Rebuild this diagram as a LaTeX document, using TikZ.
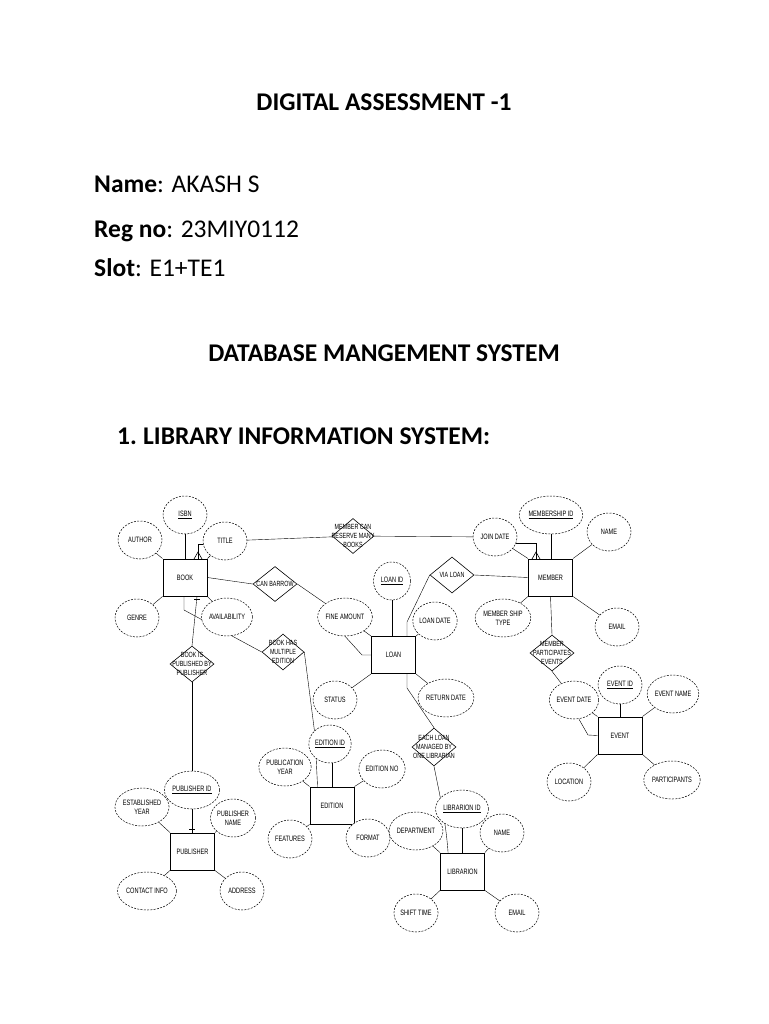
\documentclass[tikz,border=0pt]{standalone}
\usepackage{fontspec}
\setmainfont{Carlito}
\newfontfamily\erfont[FakeStretch=0.72]{Liberation Sans}
\usetikzlibrary{shapes.geometric,backgrounds,calc}
\begin{document}
\begin{tikzpicture}[x=1pt,y=-1pt,
  attr/.style={ellipse, draw, line width=0.5pt, dash pattern=on 2pt off 1.3pt, fill=white,
    minimum width=44pt, minimum height=38pt, inner sep=0pt, align=center,
    font=\erfont\fontsize{7.8}{8.8}\selectfont},
  ent/.style={rectangle, draw, line width=0.9pt, fill=white, minimum width=44pt,
    minimum height=37pt, inner sep=0pt, font=\erfont\fontsize{7.8}{8.8}\selectfont},
  rel/.style={diamond, draw, line width=0.6pt, fill=white, minimum width=44pt,
    minimum height=36pt, inner sep=0pt},
  reltext/.style={inner sep=0pt, align=center, font=\erfont\fontsize{7.5}{8.6}\selectfont},
  conn/.style={line width=0.6pt},
  hdr/.style={inner sep=0pt, font=\fontsize{25.5}{30}\selectfont}
]
\useasboundingbox (0,0) rectangle (768,1024);

% ---------- header text ----------
\node[hdr, anchor=base, font=\bfseries\fontsize{25.5}{30}\selectfont] (title1) at (384,111) {DIGITAL ASSESSMENT -1};
\node[hdr, anchor=base west] (nm) at (94,193) {\textbf{Name}: AKASH S};
\node[hdr, anchor=base west] (rg) at (94,237) {\textbf{Reg no}: 23MIY0112};
\node[hdr, anchor=base west] (sl) at (94,276) {\textbf{Slot}: E1+TE1};
\node[hdr, anchor=base, font=\bfseries\fontsize{25.5}{30}\selectfont] (title2) at (384,361) {DATABASE MANGEMENT SYSTEM};
\node[hdr, anchor=base west, font=\bfseries\fontsize{25.5}{30}\selectfont] (num) at (117,444) {1.};
\node[hdr, anchor=base west, font=\bfseries\fontsize{25.5}{30}\selectfont] (title3) at (143,444) {LIBRARY INFORMATION SYSTEM:};

% ---------- entities ----------
\node[ent] (book) at (185,577.5) {BOOK};
\node[ent] (member) at (550.5,577.5) {MEMBER};
\node[ent] (loan) at (393.5,655) {LOAN};
\node[ent] (edition) at (332,805.5) {EDITION};
\node[ent] (publisher) at (192.5,851.5) {PUBLISHER};
\node[ent] (librarian) at (462.5,871.5) {LIBRARION};
\node[ent] (event) at (620,735.5) {EVENT};

% ---------- attributes ----------
\node[attr] (isbn) at (185,515) {\underline{ISBN}};
\node[attr] (author) at (140,540) {AUTHOR};
\node[attr] (btitle) at (225,541) {TITLE};
\node[attr] (genre) at (137,618) {GENRE};
\node[attr] (avail) at (227,617) {AVAILABILITY};
\node[attr, minimum width=37pt] (loanid) at (392,581) {\underline{LOAN ID}};
\node[attr] (fine) at (345,617) {FINE AMOUNT};
\node[attr] (loandate) at (435,621) {LOAN DATE};
\node[attr] (joindate) at (495,537) {JOIN DATE};
\node[attr] (memid) at (551,515) {\underline{MEMBERSHIP ID}};
\node[attr] (mname) at (609,532) {NAME};
\node[attr] (memtype) at (503,618) {MEMBER SHIP\\TYPE};
\node[attr] (memail) at (617,627) {EMAIL};
\node[attr] (status) at (335,700) {STATUS};
\node[attr] (retdate) at (446,698) {RETURN DATE};
\node[attr, minimum width=38pt] (edid) at (330,744) {\underline{EDITION ID}};
\node[attr] (edno) at (382,769) {EDITION NO};
\node[attr, minimum width=40pt] (pubyear) at (285,767) {PUBLICATION\\YEAR};
\node[attr] (features) at (290,839) {FEATURES};
\node[attr] (format) at (368,838) {FORMAT};
\node[attr, minimum width=42pt] (dept) at (416,831) {DEPARTMENT};
\node[attr, minimum width=42pt] (pubid) at (192,790) {\underline{PUBLISHER ID}};
\node[attr, minimum width=42pt] (estyear) at (142,807) {ESTABLISHED\\YEAR};
\node[attr, minimum width=42pt] (pubname) at (233,818) {PUBLISHER\\NAME};
\node[attr] (contact) at (147,891) {CONTACT INFO};
\node[attr] (address) at (242,891) {ADDRESS};
\node[attr] (libid) at (462,809) {\underline{LIBRARION ID}};
\node[attr] (lname) at (502,833) {NAME};
\node[attr] (shift) at (416,913) {SHIFT TIME};
\node[attr] (lemail) at (517,913) {EMAIL};
\node[attr] (evdate) at (574,700) {EVENT DATE};
\node[attr] (evid) at (620,685) {\underline{EVENT ID}};
\node[attr] (evname) at (673,694) {EVENT NAME};
\node[attr] (location) at (569,782) {LOCATION};
\node[attr] (partic) at (672,780) {PARTICIPANTS};

% ---------- relationships ----------
\node[rel, minimum height=35pt] (canb) at (275,584) {};
\node[reltext] (canbt) at (canb) {CAN BARROW};
\node[rel, minimum width=42pt, minimum height=35pt] (resv) at (353,536) {};
\node[reltext] (resvt) at (resv) {MEMBER CAN\\RESERVE MANY\\BOOKS};
\node[rel] (vialoan) at (452,575) {};
\node[reltext] (vialoant) at (vialoan) {VIA LOAN};
\node[rel, minimum height=38pt] (each) at (434,747) {};
\node[reltext] (eacht) at (each) {EACH LOAN\\MANAGED BY\\ONE LIBRARIAN};
\node[rel] (pubd) at (192,664) {};
\node[reltext] (pubdt) at (pubd) {BOOK IS\\PUBLISHED BY\\PUBLISHER};
\node[rel, minimum width=42pt] (bhme) at (283,652) {};
\node[reltext] (bhmet) at (bhme) {BOOK HAS\\MULTIPLE\\EDITION};
\node[rel] (mpe) at (552,653) {};
\node[reltext] (mpet) at (mpe) {MEMBER\\PARTICIPATES\\EVENTS};

% ---------- helper coordinates ----------
\coordinate (tcf) at (198,559);
\coordinate (jcf) at (536,559);
\coordinate (fl) at (362,655);
\coordinate (vl) at (407,622);
\coordinate (le) at (407,688);
\coordinate (ee) at (588,735);
\coordinate (bh) at (184,610);
\coordinate (be) at (315,735);

% ---------- connectors ----------
\begin{scope}[on background layer, conn]
  % book
  \draw (book.north) -- (book.north |- isbn.center);
  \draw (author) -- (book.north west);
  \draw (btitle) -- (book.north east);
  \draw ($(btitle.center)+(0,3)$) -| (tcf);
  \draw (genre) -- (book.south west);
  \draw (avail) -- (book.south east);
  \draw (btitle) -- (resv) -- (joindate);
  \draw (book.east) -- (canb.west);
  \draw (canb.east) -- (fine);
  \draw (fine) -- (loan.north west);
  \draw (fine.south) -- (fl) -- (loan.west);
  % loan
  \draw (loan.north -| loanid.center) -- (loanid.center);
  \draw (vialoan.west) -- (vl) -- (vl |- loan.north);
  \draw (vialoan.east) -- (member.west);
  \draw (loandate) -- (loan.north east);
  \draw (status) -- (loan.south west);
  \draw (retdate) -- (loan.south east);
  \draw (le |- loan.south) -- (le) -- (each.north);
  \draw (each.south) .. controls ($(each.south)+(6,30)$) and ($(librarian.north west)+(6,-30)$) .. ($(librarian.north west)+(8,0)$);
  % librarian
  \draw (librarian.north -| libid.center) -- (libid.center);
  \draw (dept) -- (librarian.north west);
  \draw (lname) -- (librarian.north east);
  \draw (shift) -- (librarian.south west);
  \draw (lemail) -- (librarian.south east);
  % member
  \draw (member.north -| memid.center) -- (memid.center);
  \draw (mname) -- (member.north east);
  \draw (memtype) -- (member.south west);
  \draw (memail) -- (member.south east);
  \draw (joindate) -- (member.north west);
  \draw ($(joindate.center)+(0,6)$) -| (jcf);
  \draw (member.south) -- (mpe.north);
  \draw (mpe.south) -- (evdate);
  % event
  \draw (evdate) -- (event.north west);
  \draw ($(evdate.south)+(5,0)$) -- (ee) -- (event.west);
  \draw (event.north) -- (evid.center);
  \draw (evname) -- (event.north east);
  \draw (location) -- (event.south west);
  \draw (partic) -- (event.south east);
  % publisher
  \draw ($(book.south)+(12,0)$) -- (pubd.north);
  \draw (pubd.south) -- (pubid.center);
  \draw (pubid.center) -- (pubid.center |- publisher.north);
  \draw (estyear) -- (publisher.north west);
  \draw (pubname) -- (publisher.north east);
  \draw (contact) -- (publisher.south west);
  \draw (address) -- (publisher.south east);
  % edition
  \draw (bh |- book.south) -- (bh) -- (bhme.west);
  \draw (bhme.east) -- (be) -- ($(edition.north west)+(8,0)$);
  \draw (edition.north) -- (edition.north |- edid.center);
  \draw (pubyear) -- (edition.north west);
  \draw (edno) -- (edition.north east);
  \draw (features) -- (edition.south west);
  \draw (format) -- (edition.south east);
\end{scope}

% ---------- cardinality marks ----------
\draw[conn] ($(tcf)+(-4,0)$) -- ($(tcf)+(0,-7)$) -- ($(tcf)+(4,0)$);
\draw[conn] ($(jcf)+(-4,0)$) -- ($(jcf)+(0,-7)$) -- ($(jcf)+(4,0)$);
\draw[conn] ($(book.south)+(9,2.5)$) -- ($(book.south)+(15,2.5)$);
\draw[conn] ($(publisher.north)+(-3.5,-3)$) -- ($(publisher.north)+(2.5,-3)$);
\end{tikzpicture}
\end{document}
